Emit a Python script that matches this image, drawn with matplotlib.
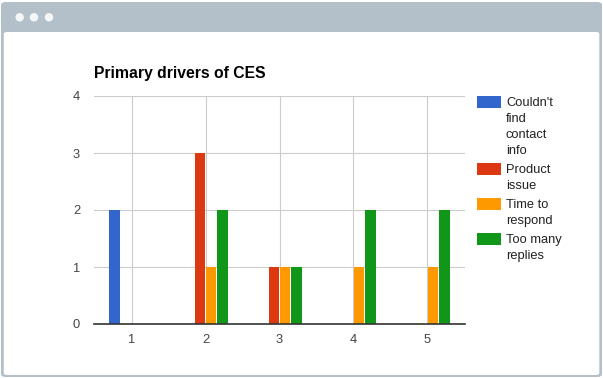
import textwrap
import numpy as np
import matplotlib.pyplot as plt
from matplotlib.patches import FancyBboxPatch, Rectangle, Ellipse

# data
categories = [1, 2, 3, 4, 5]
series_names = ["Couldn't find contact info", "Product issue",
                "Time to respond", "Too many replies"]
series_colors = ["#3366cc", "#dc3912", "#ff9900", "#109618"]
couldnt_find = [2, 0, 0, 0, 0]
product_issue = [0, 3, 1, 0, 0]
time_to_respond = [0, 1, 1, 1, 1]
too_many_replies = [0, 2, 1, 2, 2]
y_ticks = [0, 1, 2, 3, 4]
title = "Primary drivers of CES"

series_values = [couldnt_find, product_issue, time_to_respond, too_many_replies]

W, H = 603, 378
plt.rcParams['font.family'] = ['Liberation Sans', 'DejaVu Sans']
fig = plt.figure(figsize=(W / 100, H / 100), dpi=100)
fig.patch.set_facecolor('white')


def fx(px):
    return px / W


def fy(py):
    return 1 - py / H


# window frame
frame_col = '#b3c0c9'
fig.patches.append(FancyBboxPatch((fx(1), fy(377)), fx(601), 375 / H,
                                  boxstyle='round,pad=0,rounding_size=0.008',
                                  transform=fig.transFigure, facecolor=frame_col,
                                  edgecolor='none', zorder=0))
fig.patches.append(FancyBboxPatch((fx(3.8), fy(375)), fx(595.5), 343 / H,
                                  boxstyle='round,pad=0,rounding_size=0.005',
                                  transform=fig.transFigure, facecolor='white',
                                  edgecolor='none', zorder=1))
for cx in [19.7, 34, 49]:
    fig.patches.append(Ellipse((fx(cx), fy(17.3)), 8.5 / W, 8.5 / H,
                               transform=fig.transFigure,
                               facecolor='#f4f6f8', edgecolor='none', zorder=2))

# chart area
ax = fig.add_axes([fx(94), fy(324), fx(371), 228 / H])
ax.set_zorder(3)
ax.patch.set_alpha(0)

slot = 0.153
bar_w = 0.142
x = np.array(categories, dtype=float)
for i, (vals, col) in enumerate(zip(series_values, series_colors)):
    ax.bar(x + (i - 1.5) * slot, vals, width=bar_w, color=col, linewidth=0, zorder=3)

ax.set_xlim(0.49, 5.51)
ax.set_ylim(0, 4)
ax.set_xticks(categories)
ax.set_yticks(y_ticks)
ax.grid(True, color='#cccccc', linewidth=0.8, zorder=0)
ax.set_axisbelow(True)
for s in ['top', 'right', 'left']:
    ax.spines[s].set_visible(False)
ax.spines['bottom'].set_color('#333333')
ax.spines['bottom'].set_linewidth(1.2)
ax.spines['bottom'].set_zorder(4)
ax.tick_params(length=0, labelsize=9.3, labelcolor='#444444')
ax.tick_params(axis='y', pad=10)
ax.tick_params(axis='x', pad=7)

fig.text(fx(94), fy(77.7), title, fontsize=11.3, fontweight='bold',
         color='#000000', ha='left', va='baseline', zorder=5)

# legend
legend_top = [96, 163, 198, 233]
for name, col, top in zip(series_names, series_colors, legend_top):
    fig.patches.append(Rectangle((fx(477), fy(top + 12)), fx(24), 12 / H,
                                 transform=fig.transFigure, facecolor=col,
                                 edgecolor='none', zorder=5))
    for j, line in enumerate(textwrap.wrap(name, 8)):
        fig.text(fx(506), fy(top + 6 + 4.3 + j * 16), line, fontsize=9.3,
                 color='#222222', ha='left', va='baseline', zorder=5)

fig.savefig('out.png', dpi=100)
